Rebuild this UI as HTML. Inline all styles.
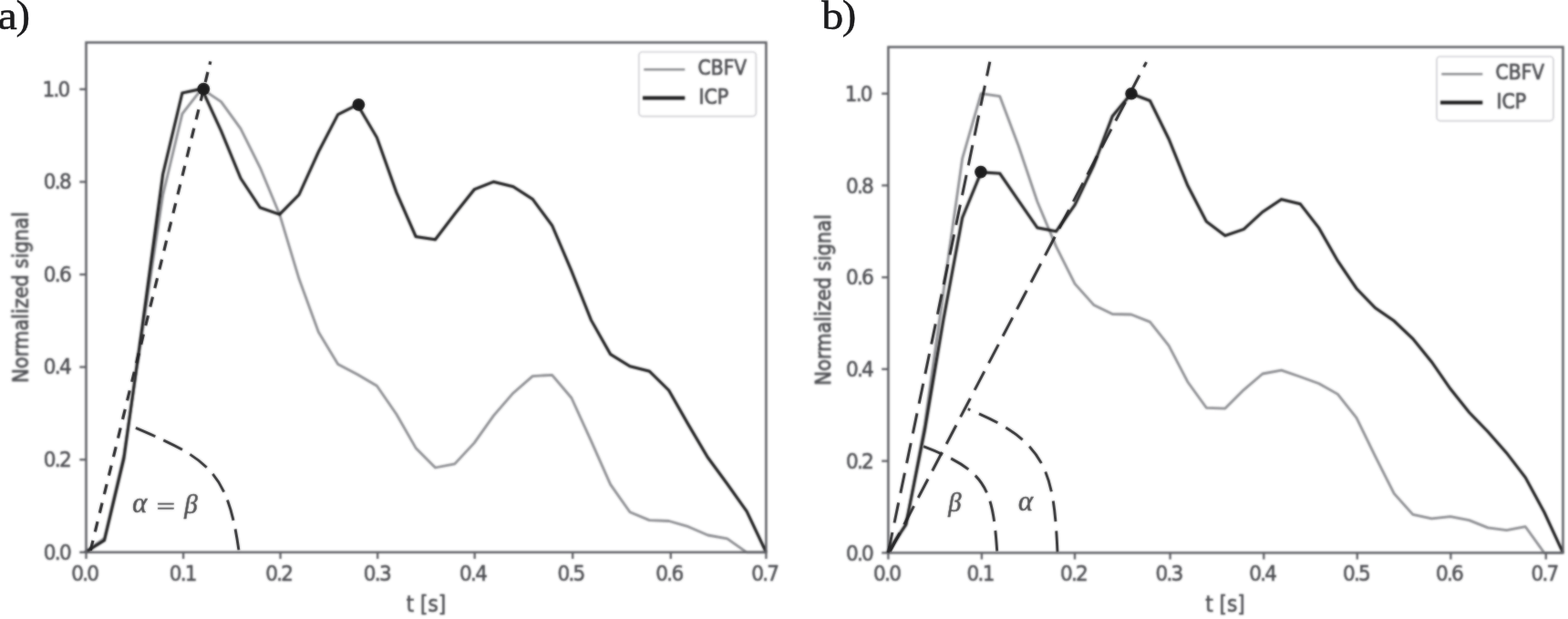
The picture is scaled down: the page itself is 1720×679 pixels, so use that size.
<!DOCTYPE html>
<html lang="en"><head><meta charset="utf-8"><title>Normalized CBFV and ICP pulse waveforms</title>
<style>
html,body{margin:0;padding:0;background:#fff;}
body{width:1720px;height:679px;overflow:hidden;}
svg{display:block;}
.tk{font-family:"DejaVu Sans","Liberation Sans",sans-serif;font-size:23.5px;fill:#4e4f53;stroke:#4e4f53;stroke-width:0.55px;stroke-linejoin:round;}
.xl{font-family:"DejaVu Sans","Liberation Sans",sans-serif;font-size:24.8px;fill:#4e4f53;stroke:#4e4f53;stroke-width:0.6px;stroke-linejoin:round;}
.yl{font-family:"DejaVu Sans","Liberation Sans",sans-serif;font-size:22.2px;fill:#4e4f53;stroke:#4e4f53;stroke-width:0.75px;stroke-linejoin:round;}
.lg{font-family:"DejaVu Sans","Liberation Sans",sans-serif;font-size:22.4px;fill:#4e4f53;stroke:#4e4f53;stroke-width:0.7px;stroke-linejoin:round;}
.pl{font-family:"Liberation Serif",serif;font-size:44.8px;fill:#1b1b1d;stroke:#1b1b1d;stroke-width:0.5px;}
.mt{font-family:"Liberation Serif","DejaVu Serif",serif;font-style:italic;font-size:30.6px;fill:#4a4a4c;stroke:#4a4a4c;stroke-width:0.55px;}
</style></head><body>
<svg width="1720" height="679" viewBox="0 0 1720 679">
<rect width="1720" height="679" fill="#ffffff"/>
<defs><filter id="soft" x="0" y="0" width="1720" height="679" filterUnits="userSpaceOnUse" color-interpolation-filters="sRGB"><feGaussianBlur stdDeviation="0.9" result="b"/><feComposite in="SourceGraphic" in2="b" operator="arithmetic" k1="0" k2="0.15" k3="0.85" k4="0"/></filter><filter id="soft2" x="0" y="0" width="1720" height="679" filterUnits="userSpaceOnUse" color-interpolation-filters="sRGB"><feGaussianBlur stdDeviation="0.9" result="b"/><feComposite in="SourceGraphic" in2="b" operator="arithmetic" k1="0" k2="0.5" k3="0.5" k4="0"/></filter></defs>
<text class="pl" transform="translate(-2.6,31.7) scale(1.07,1)">a<tspan dx="-1.2" dy="-0.4" style="font-size:43.6px">)</tspan></text>
<text class="pl" transform="translate(901.2,31.7) scale(1.07,1)">b<tspan dx="-1.2" dy="-0.4" style="font-size:43.6px">)</tspan></text>
<g id="plots" filter="url(#soft)">
<polyline fill="none" stroke="#8e8f93" stroke-width="2.8" stroke-linejoin="round" points="93.2,605.8 114.5,590.5 135.9,499.0 157.2,356.7 178.6,214.3 199.9,124.9 221.3,97.4 242.6,111.6 264.0,141.1 285.3,183.8 306.7,235.2 328.0,305.8 349.4,364.3 370.7,399.4 392.1,410.8 413.4,423.3 434.8,454.3 456.1,491.4 477.5,513.0 498.8,508.9 520.2,485.9 541.5,455.9 562.9,431.2 584.2,412.6 605.6,411.3 626.9,436.5 648.3,483.3 669.6,531.4 691.0,561.8 712.3,570.6 733.7,571.5 755.0,577.7 776.4,587.0 797.7,590.9 819.1,605.8 840.4,605.8"/>
<polyline fill="none" stroke="#1c1c1d" stroke-width="3.15" stroke-linejoin="miter" stroke-miterlimit="3" points="93.2,605.8 114.5,592.8 135.9,502.9 157.2,349.6 178.6,191.5 199.9,102.0 221.3,97.4 242.6,143.7 264.0,195.5 285.3,227.8 306.7,235.2 328.0,213.6 349.4,166.5 370.7,125.6 392.1,114.8 413.4,150.8 434.8,210.9 456.1,259.5 477.5,262.7 498.8,234.7 520.2,207.9 541.5,199.4 562.9,204.7 584.2,218.4 605.6,247.2 626.9,297.2 648.3,350.9 669.6,388.6 691.0,401.9 712.3,407.1 733.7,428.1 755.0,465.6 776.4,501.8 797.7,530.8 819.1,560.9 840.4,605.8"/>
<rect x="94.5" y="46.6" width="745.9" height="559.2" fill="none" stroke="#5e5f64" stroke-width="2.45"/>
<line x1="87.3" y1="605.8" x2="94.5" y2="605.8" stroke="#5e5f64" stroke-width="2.3"/>
<text class="tk" transform="translate(76.90,613.60) scale(0.920,1)" text-anchor="end" style="letter-spacing:-1.90px">0.0</text>
<line x1="87.3" y1="504.2" x2="94.5" y2="504.2" stroke="#5e5f64" stroke-width="2.3"/>
<text class="tk" transform="translate(76.90,512.02) scale(0.920,1)" text-anchor="end" style="letter-spacing:-1.90px">0.2</text>
<line x1="87.3" y1="402.6" x2="94.5" y2="402.6" stroke="#5e5f64" stroke-width="2.3"/>
<text class="tk" transform="translate(76.90,410.44) scale(0.920,1)" text-anchor="end" style="letter-spacing:-1.90px">0.4</text>
<line x1="87.3" y1="301.1" x2="94.5" y2="301.1" stroke="#5e5f64" stroke-width="2.3"/>
<text class="tk" transform="translate(76.90,308.86) scale(0.920,1)" text-anchor="end" style="letter-spacing:-1.90px">0.6</text>
<line x1="87.3" y1="199.5" x2="94.5" y2="199.5" stroke="#5e5f64" stroke-width="2.3"/>
<text class="tk" transform="translate(76.90,207.28) scale(0.920,1)" text-anchor="end" style="letter-spacing:-1.90px">0.8</text>
<line x1="87.3" y1="97.9" x2="94.5" y2="97.9" stroke="#5e5f64" stroke-width="2.3"/>
<text class="tk" transform="translate(75.60,105.70) scale(0.920,1)" text-anchor="end" style="letter-spacing:-1.90px">1.0</text>
<line x1="94.5" y1="605.8" x2="94.5" y2="613.0" stroke="#5e5f64" stroke-width="2.3"/>
<text class="tk" transform="translate(92.80,637.10) scale(0.920,1)" text-anchor="middle" style="letter-spacing:-1.90px">0.0</text>
<line x1="201.1" y1="605.8" x2="201.1" y2="613.0" stroke="#5e5f64" stroke-width="2.3"/>
<text class="tk" transform="translate(200.26,637.10) scale(0.920,1)" text-anchor="middle" style="letter-spacing:-1.90px">0.1</text>
<line x1="307.6" y1="605.8" x2="307.6" y2="613.0" stroke="#5e5f64" stroke-width="2.3"/>
<text class="tk" transform="translate(305.81,637.10) scale(0.920,1)" text-anchor="middle" style="letter-spacing:-1.90px">0.2</text>
<line x1="414.2" y1="605.8" x2="414.2" y2="613.0" stroke="#5e5f64" stroke-width="2.3"/>
<text class="tk" transform="translate(413.37,637.10) scale(0.920,1)" text-anchor="middle" style="letter-spacing:-1.90px">0.3</text>
<line x1="520.7" y1="605.8" x2="520.7" y2="613.0" stroke="#5e5f64" stroke-width="2.3"/>
<text class="tk" transform="translate(518.63,637.10) scale(0.920,1)" text-anchor="middle" style="letter-spacing:-1.90px">0.4</text>
<line x1="628.2" y1="605.8" x2="628.2" y2="613.0" stroke="#5e5f64" stroke-width="2.3"/>
<text class="tk" transform="translate(625.99,637.10) scale(0.920,1)" text-anchor="middle" style="letter-spacing:-1.90px">0.5</text>
<line x1="735.8" y1="605.8" x2="735.8" y2="613.0" stroke="#5e5f64" stroke-width="2.3"/>
<text class="tk" transform="translate(733.84,637.10) scale(0.920,1)" text-anchor="middle" style="letter-spacing:-1.90px">0.6</text>
<line x1="840.4" y1="605.8" x2="840.4" y2="613.0" stroke="#5e5f64" stroke-width="2.3"/>
<text class="tk" transform="translate(838.70,637.10) scale(0.920,1)" text-anchor="middle" style="letter-spacing:-1.90px">0.7</text>
<text class="xl" transform="translate(467.50,671.20) scale(0.875,1)" text-anchor="middle" style="letter-spacing:0.00px">t [s]</text>
<text class="yl" transform="translate(30.6,326.2) rotate(-90) scale(0.945,1)" text-anchor="middle">Normalized signal</text>
<rect x="700.8" y="57" width="128.6" height="70.6" rx="4" ry="4" fill="#ffffff" stroke="#d3d3d7" stroke-width="1.7"/>
<line x1="706.3" y1="76.3" x2="751.3" y2="76.3" stroke="#8e8f93" stroke-width="2.4"/>
<line x1="705" y1="107.6" x2="751.3" y2="107.6" stroke="#1c1c1d" stroke-width="4"/>
<text class="lg" transform="translate(765.60,82.00) scale(0.905,1)" text-anchor="start" style="letter-spacing:0.00px">CBFV</text>
<text class="lg" transform="translate(766.40,114.00) scale(0.920,1)" text-anchor="start" style="letter-spacing:0.00px">ICP</text>
<polyline fill="none" stroke="#8e8f93" stroke-width="2.8" stroke-linejoin="round" points="973.2,606.4 993.8,576.2 1014.4,465.4 1035.0,319.3 1055.6,174.2 1076.2,102.7 1096.8,105.7 1117.3,160.3 1137.9,221.2 1158.5,270.4 1179.1,311.4 1199.7,334.4 1220.3,344.5 1240.9,345.0 1261.5,353.1 1282.1,379.1 1302.7,418.7 1323.3,447.3 1343.9,448.1 1364.4,427.6 1385.0,410.0 1405.6,406.1 1426.2,413.2 1446.8,420.7 1467.4,432.4 1488.0,458.3 1508.6,500.6 1529.2,541.4 1549.8,564.4 1570.4,568.8 1591.0,566.7 1611.5,570.6 1632.1,578.9 1652.7,581.7 1673.3,577.7 1693.9,606.4 1714.5,606.4"/>
<polyline fill="none" stroke="#1c1c1d" stroke-width="3.15" stroke-linejoin="miter" stroke-miterlimit="3" points="973.2,606.4 993.8,575.2 1014.4,471.9 1035.0,350.0 1055.6,238.9 1076.2,189.0 1096.8,190.3 1117.3,220.1 1137.9,249.8 1158.5,253.8 1179.1,224.7 1199.7,181.5 1220.3,127.4 1240.9,102.7 1261.5,110.5 1282.1,152.5 1302.7,203.3 1323.3,243.0 1343.9,258.5 1364.4,251.4 1385.0,232.4 1405.6,218.6 1426.2,223.6 1446.8,250.1 1467.4,286.2 1488.0,316.5 1508.6,337.9 1529.2,352.0 1549.8,371.5 1570.4,396.9 1591.0,426.6 1611.5,452.3 1632.1,473.5 1652.7,496.9 1673.3,523.8 1693.9,561.8 1714.5,606.4"/>
<rect x="974.4" y="51.6" width="740.1" height="554.8" fill="none" stroke="#5e5f64" stroke-width="2.45"/>
<line x1="967.2" y1="606.4" x2="974.4" y2="606.4" stroke="#5e5f64" stroke-width="2.3"/>
<text class="tk" transform="translate(957.10,614.50) scale(0.920,1)" text-anchor="end" style="letter-spacing:-1.90px">0.0</text>
<line x1="967.2" y1="505.7" x2="974.4" y2="505.7" stroke="#5e5f64" stroke-width="2.3"/>
<text class="tk" transform="translate(957.10,513.76) scale(0.920,1)" text-anchor="end" style="letter-spacing:-1.90px">0.2</text>
<line x1="967.2" y1="404.9" x2="974.4" y2="404.9" stroke="#5e5f64" stroke-width="2.3"/>
<text class="tk" transform="translate(957.10,413.02) scale(0.920,1)" text-anchor="end" style="letter-spacing:-1.90px">0.4</text>
<line x1="967.2" y1="304.2" x2="974.4" y2="304.2" stroke="#5e5f64" stroke-width="2.3"/>
<text class="tk" transform="translate(957.10,312.28) scale(0.920,1)" text-anchor="end" style="letter-spacing:-1.90px">0.6</text>
<line x1="967.2" y1="203.4" x2="974.4" y2="203.4" stroke="#5e5f64" stroke-width="2.3"/>
<text class="tk" transform="translate(957.10,211.54) scale(0.920,1)" text-anchor="end" style="letter-spacing:-1.90px">0.8</text>
<line x1="967.2" y1="102.7" x2="974.4" y2="102.7" stroke="#5e5f64" stroke-width="2.3"/>
<text class="tk" transform="translate(955.80,110.80) scale(0.920,1)" text-anchor="end" style="letter-spacing:-1.90px">1.0</text>
<line x1="974.4" y1="606.4" x2="974.4" y2="613.6" stroke="#5e5f64" stroke-width="2.3"/>
<text class="tk" transform="translate(972.60,637.20) scale(0.920,1)" text-anchor="middle" style="letter-spacing:-1.90px">0.0</text>
<line x1="1076.9" y1="606.4" x2="1076.9" y2="613.6" stroke="#5e5f64" stroke-width="2.3"/>
<text class="tk" transform="translate(1075.09,637.20) scale(0.920,1)" text-anchor="middle" style="letter-spacing:-1.90px">0.1</text>
<line x1="1179.0" y1="606.4" x2="1179.0" y2="613.6" stroke="#5e5f64" stroke-width="2.3"/>
<text class="tk" transform="translate(1177.48,637.20) scale(0.920,1)" text-anchor="middle" style="letter-spacing:-1.90px">0.2</text>
<line x1="1283.6" y1="606.4" x2="1283.6" y2="613.6" stroke="#5e5f64" stroke-width="2.3"/>
<text class="tk" transform="translate(1281.98,637.20) scale(0.920,1)" text-anchor="middle" style="letter-spacing:-1.90px">0.3</text>
<line x1="1386.3" y1="606.4" x2="1386.3" y2="613.6" stroke="#5e5f64" stroke-width="2.3"/>
<text class="tk" transform="translate(1384.77,637.20) scale(0.920,1)" text-anchor="middle" style="letter-spacing:-1.90px">0.4</text>
<line x1="1488.8" y1="606.4" x2="1488.8" y2="613.6" stroke="#5e5f64" stroke-width="2.3"/>
<text class="tk" transform="translate(1487.56,637.20) scale(0.920,1)" text-anchor="middle" style="letter-spacing:-1.90px">0.5</text>
<line x1="1591.4" y1="606.4" x2="1591.4" y2="613.6" stroke="#5e5f64" stroke-width="2.3"/>
<text class="tk" transform="translate(1589.55,637.20) scale(0.920,1)" text-anchor="middle" style="letter-spacing:-1.90px">0.6</text>
<line x1="1695.8" y1="606.4" x2="1695.8" y2="613.6" stroke="#5e5f64" stroke-width="2.3"/>
<text class="tk" transform="translate(1693.94,637.20) scale(0.920,1)" text-anchor="middle" style="letter-spacing:-1.90px">0.7</text>
<text class="xl" transform="translate(1344.00,671.00) scale(0.875,1)" text-anchor="middle" style="letter-spacing:0.00px">t [s]</text>
<text class="yl" transform="translate(911.0,329) rotate(-90) scale(0.945,1)" text-anchor="middle">Normalized signal</text>
<rect x="1576" y="62" width="128" height="70.6" rx="4" ry="4" fill="#ffffff" stroke="#d3d3d7" stroke-width="1.7"/>
<line x1="1581.3" y1="81.3" x2="1626.3" y2="81.3" stroke="#8e8f93" stroke-width="2.4"/>
<line x1="1580" y1="112.4" x2="1626.3" y2="112.4" stroke="#1c1c1d" stroke-width="4"/>
<text class="lg" transform="translate(1640.60,86.90) scale(0.905,1)" text-anchor="start" style="letter-spacing:0.00px">CBFV</text>
<text class="lg" transform="translate(1641.40,118.60) scale(0.920,1)" text-anchor="start" style="letter-spacing:0.00px">ICP</text>
</g>
<g id="annotations" filter="url(#soft2)">
<line x1="230.85" y1="67.4" x2="230.0" y2="70.8" stroke="#262628" stroke-width="3.2"/>
<line x1="227.95" y1="79.0" x2="98.8" y2="605.8" stroke="#262628" stroke-width="3.2" stroke-dasharray="11.4 9.76"/>
<path d="M148.9,469.4 C227.8,503.1 250.1,516.4 262.2,605.5" fill="none" stroke="#262628" stroke-width="2.9" stroke-dasharray="23.3 9.8"/>
<circle cx="223.3" cy="97.7" r="6.9" fill="#1c1c1d"/>
<circle cx="393.4" cy="114.8" r="6.9" fill="#1c1c1d"/>
<text class="mt" x="145.2" y="562.2">α <tspan x="169.3" y="563.7" style="font-size:24.5px" textLength="24.6" lengthAdjust="spacingAndGlyphs">=</tspan> <tspan x="202.2" y="563.0" style="font-size:29px">β</tspan></text>
<line x1="974.3" y1="606.2" x2="1085.8" y2="67.8" stroke="#262628" stroke-width="3.0" stroke-dasharray="22.6 10.77"/>
<line x1="976.3" y1="605.1" x2="1257.5" y2="68.1" stroke="#262628" stroke-width="3.0" stroke-dasharray="23.1 10.24"/>
<path d="M1013.0,489.7 C1081.9,516.3 1089.1,534.9 1093.8,606.0" fill="none" stroke="#262628" stroke-width="2.9" stroke-dasharray="22.8 10.0"/>
<path d="M1061.8,448.7 C1148.9,483.8 1156.0,518.1 1160.0,606.0" fill="none" stroke="#262628" stroke-width="2.9" stroke-dasharray="22.8 10.4" stroke-dashoffset="20.2"/>
<circle cx="1075.9" cy="188.6" r="6.8" fill="#1c1c1d"/>
<circle cx="1241.0" cy="102.8" r="6.8" fill="#1c1c1d"/>
<text class="mt" x="1040.2" y="561.3" style="font-size:28.5px">β</text>
<text class="mt" x="1117.0" y="560.2">α</text>
</g>
</svg>
